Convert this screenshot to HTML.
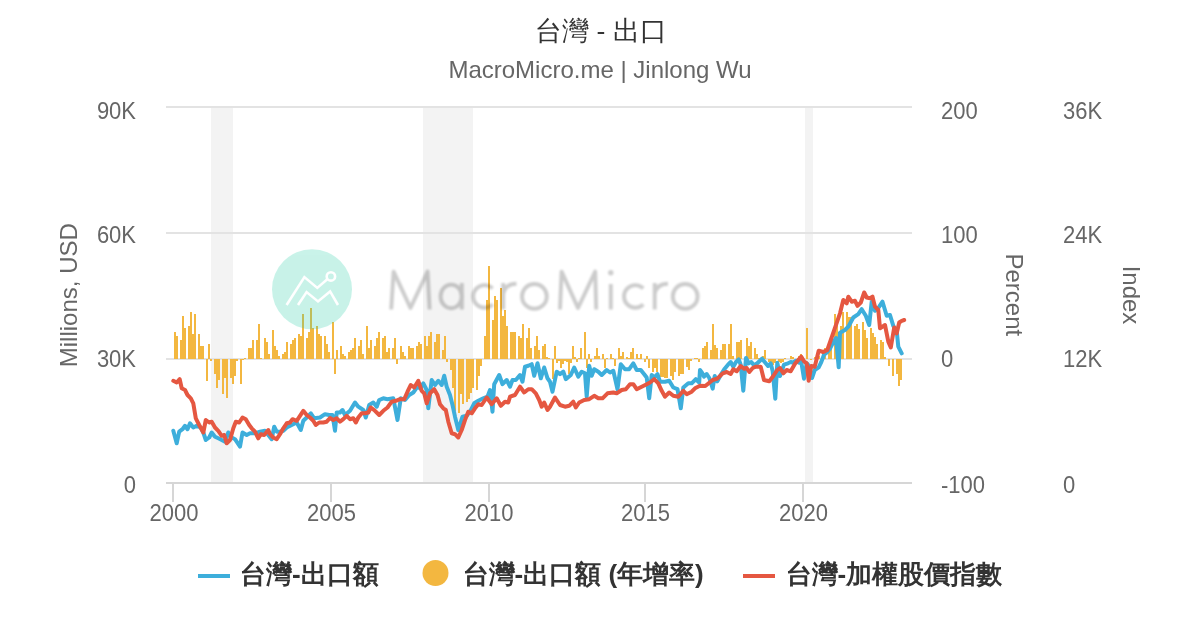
<!DOCTYPE html>
<html><head><meta charset="utf-8"><style>
html,body{margin:0;padding:0;background:#fff;}
body{width:1200px;height:630px;overflow:hidden;position:relative;font-family:"Liberation Sans",sans-serif;}
svg{position:absolute;left:0;top:0;will-change:transform;}
text{font-family:"Liberation Sans",sans-serif;}
</style></head><body>
<svg width="1200" height="630" viewBox="0 0 1200 630">
<defs><filter id="bl" x="-10%" y="-10%" width="120%" height="120%"><feGaussianBlur stdDeviation="0.8"/></filter></defs>
<rect x="0" y="0" width="1200" height="630" fill="#fff"/>
<g fill="#f3f3f3">
<rect x="211" y="107" width="22" height="376"/>
<rect x="423" y="107" width="50" height="376"/>
<rect x="805" y="107" width="8" height="376"/>
</g>
<g fill="#e3e3e3">
<rect x="166" y="106" width="746" height="2"/>
<rect x="166" y="232" width="746" height="2"/>
<rect x="166" y="358" width="746" height="2"/>
</g>
<g fill="#f3b740" shape-rendering="crispEdges">
<rect x="174" y="332.1" width="2" height="26.9"/>
<rect x="176" y="336.1" width="2" height="22.9"/>
<rect x="180" y="340.0" width="2" height="19.0"/>
<rect x="182" y="316.0" width="2" height="43.0"/>
<rect x="184" y="327.9" width="2" height="31.1"/>
<rect x="188" y="326.0" width="2" height="33.0"/>
<rect x="190" y="312.0" width="2" height="47.0"/>
<rect x="192" y="334.0" width="2" height="25.0"/>
<rect x="194" y="314.0" width="2" height="45.0"/>
<rect x="198" y="334.0" width="2" height="25.0"/>
<rect x="200" y="346.0" width="2" height="13.0"/>
<rect x="202" y="346.0" width="2" height="13.0"/>
<rect x="206" y="359.0" width="2" height="22.4"/>
<rect x="208" y="344.0" width="2" height="15.0"/>
<rect x="210" y="359.0" width="2" height="2.4"/>
<rect x="214" y="359.0" width="2" height="14.6"/>
<rect x="216" y="359.0" width="2" height="28.9"/>
<rect x="218" y="359.0" width="2" height="21.0"/>
<rect x="222" y="359.0" width="2" height="34.6"/>
<rect x="224" y="359.0" width="2" height="18.9"/>
<rect x="226" y="359.0" width="2" height="38.9"/>
<rect x="230" y="359.0" width="2" height="18.9"/>
<rect x="232" y="359.0" width="2" height="24.6"/>
<rect x="234" y="359.0" width="2" height="16.7"/>
<rect x="236" y="359.0" width="2" height="1.5"/>
<rect x="240" y="359.0" width="2" height="24.6"/>
<rect x="242" y="359.0" width="2" height="0.8"/>
<rect x="244" y="357.9" width="2" height="1.1"/>
<rect x="248" y="347.9" width="2" height="11.1"/>
<rect x="250" y="347.9" width="2" height="11.1"/>
<rect x="252" y="340.0" width="2" height="19.0"/>
<rect x="256" y="340.0" width="2" height="19.0"/>
<rect x="258" y="324.0" width="2" height="35.0"/>
<rect x="260" y="357.9" width="2" height="1.1"/>
<rect x="264" y="337.9" width="2" height="21.1"/>
<rect x="266" y="342.1" width="2" height="16.9"/>
<rect x="268" y="354.3" width="2" height="4.7"/>
<rect x="272" y="330.1" width="2" height="28.9"/>
<rect x="274" y="345.9" width="2" height="13.1"/>
<rect x="276" y="350.1" width="2" height="8.9"/>
<rect x="278" y="355.8" width="2" height="3.2"/>
<rect x="282" y="353.9" width="2" height="5.1"/>
<rect x="284" y="352.0" width="2" height="7.0"/>
<rect x="286" y="341.8" width="2" height="17.2"/>
<rect x="290" y="344.1" width="2" height="14.9"/>
<rect x="292" y="339.9" width="2" height="19.1"/>
<rect x="294" y="338.0" width="2" height="21.0"/>
<rect x="298" y="334.0" width="2" height="25.0"/>
<rect x="300" y="335.9" width="2" height="23.1"/>
<rect x="302" y="313.9" width="2" height="45.1"/>
<rect x="306" y="338.0" width="2" height="21.0"/>
<rect x="308" y="332.0" width="2" height="27.0"/>
<rect x="310" y="308.2" width="2" height="50.8"/>
<rect x="312" y="327.9" width="2" height="31.1"/>
<rect x="316" y="326.0" width="2" height="33.0"/>
<rect x="318" y="334.0" width="2" height="25.0"/>
<rect x="320" y="335.9" width="2" height="23.1"/>
<rect x="324" y="335.9" width="2" height="23.1"/>
<rect x="326" y="344.1" width="2" height="14.9"/>
<rect x="328" y="352.0" width="2" height="7.0"/>
<rect x="332" y="322.1" width="2" height="36.9"/>
<rect x="334" y="359.0" width="2" height="14.6"/>
<rect x="336" y="350.1" width="2" height="8.9"/>
<rect x="340" y="345.9" width="2" height="13.1"/>
<rect x="342" y="353.9" width="2" height="5.1"/>
<rect x="344" y="355.8" width="2" height="3.2"/>
<rect x="348" y="352.0" width="2" height="7.0"/>
<rect x="350" y="350.1" width="2" height="8.9"/>
<rect x="352" y="348.2" width="2" height="10.8"/>
<rect x="354" y="338.0" width="2" height="21.0"/>
<rect x="358" y="345.9" width="2" height="13.1"/>
<rect x="360" y="339.9" width="2" height="19.1"/>
<rect x="362" y="353.9" width="2" height="5.1"/>
<rect x="366" y="326.0" width="2" height="33.0"/>
<rect x="368" y="348.2" width="2" height="10.8"/>
<rect x="370" y="339.9" width="2" height="19.1"/>
<rect x="374" y="345.9" width="2" height="13.1"/>
<rect x="376" y="338.0" width="2" height="21.0"/>
<rect x="378" y="332.0" width="2" height="27.0"/>
<rect x="382" y="338.0" width="2" height="21.0"/>
<rect x="384" y="335.9" width="2" height="23.1"/>
<rect x="386" y="352.1" width="2" height="6.9"/>
<rect x="388" y="348.2" width="2" height="10.8"/>
<rect x="392" y="348.2" width="2" height="10.8"/>
<rect x="394" y="338.2" width="2" height="20.8"/>
<rect x="396" y="359.0" width="2" height="4.8"/>
<rect x="400" y="346.0" width="2" height="13.0"/>
<rect x="402" y="352.1" width="2" height="6.9"/>
<rect x="404" y="356.2" width="2" height="2.8"/>
<rect x="408" y="346.0" width="2" height="13.0"/>
<rect x="410" y="348.2" width="2" height="10.8"/>
<rect x="412" y="348.2" width="2" height="10.8"/>
<rect x="416" y="346.0" width="2" height="13.0"/>
<rect x="418" y="342.2" width="2" height="16.8"/>
<rect x="420" y="344.1" width="2" height="14.9"/>
<rect x="424" y="336.3" width="2" height="22.7"/>
<rect x="426" y="346.0" width="2" height="13.0"/>
<rect x="428" y="336.3" width="2" height="22.7"/>
<rect x="430" y="332.1" width="2" height="26.9"/>
<rect x="434" y="342.2" width="2" height="16.8"/>
<rect x="436" y="334.2" width="2" height="24.8"/>
<rect x="438" y="334.2" width="2" height="24.8"/>
<rect x="442" y="350.2" width="2" height="8.8"/>
<rect x="444" y="336.3" width="2" height="22.7"/>
<rect x="446" y="359.0" width="2" height="2.7"/>
<rect x="450" y="359.0" width="2" height="11.0"/>
<rect x="452" y="359.0" width="2" height="29.1"/>
<rect x="454" y="359.0" width="2" height="51.5"/>
<rect x="458" y="359.0" width="2" height="54.0"/>
<rect x="460" y="359.0" width="2" height="35.3"/>
<rect x="462" y="359.0" width="2" height="44.8"/>
<rect x="466" y="359.0" width="2" height="42.9"/>
<rect x="468" y="359.0" width="2" height="40.0"/>
<rect x="470" y="359.0" width="2" height="34.0"/>
<rect x="472" y="359.0" width="2" height="29.0"/>
<rect x="476" y="359.0" width="2" height="30.5"/>
<rect x="478" y="359.0" width="2" height="16.7"/>
<rect x="480" y="359.0" width="2" height="6.7"/>
<rect x="484" y="336.3" width="2" height="22.7"/>
<rect x="486" y="300.0" width="2" height="59.0"/>
<rect x="488" y="266.0" width="2" height="93.0"/>
<rect x="492" y="320.0" width="2" height="39.0"/>
<rect x="494" y="296.0" width="2" height="63.0"/>
<rect x="496" y="300.0" width="2" height="59.0"/>
<rect x="500" y="288.0" width="2" height="71.0"/>
<rect x="502" y="316.0" width="2" height="43.0"/>
<rect x="504" y="310.2" width="2" height="48.8"/>
<rect x="506" y="326.0" width="2" height="33.0"/>
<rect x="510" y="332.2" width="2" height="26.8"/>
<rect x="512" y="332.2" width="2" height="26.8"/>
<rect x="514" y="332.0" width="2" height="27.0"/>
<rect x="518" y="336.0" width="2" height="23.0"/>
<rect x="520" y="338.0" width="2" height="21.0"/>
<rect x="522" y="324.3" width="2" height="34.7"/>
<rect x="526" y="338.0" width="2" height="21.0"/>
<rect x="528" y="328.0" width="2" height="31.0"/>
<rect x="530" y="348.0" width="2" height="11.0"/>
<rect x="534" y="346.0" width="2" height="13.0"/>
<rect x="536" y="336.0" width="2" height="23.0"/>
<rect x="538" y="349.7" width="2" height="9.3"/>
<rect x="542" y="346.0" width="2" height="13.0"/>
<rect x="544" y="343.8" width="2" height="15.2"/>
<rect x="546" y="357.0" width="2" height="2.0"/>
<rect x="548" y="357.5" width="2" height="1.5"/>
<rect x="552" y="359.0" width="2" height="20.4"/>
<rect x="554" y="345.9" width="2" height="13.1"/>
<rect x="556" y="359.0" width="2" height="4.3"/>
<rect x="558" y="359.0" width="2" height="2.0"/>
<rect x="560" y="359.0" width="2" height="8.8"/>
<rect x="562" y="359.0" width="2" height="5.4"/>
<rect x="564" y="359.0" width="2" height="1.6"/>
<rect x="566" y="359.0" width="2" height="3.0"/>
<rect x="568" y="359.0" width="2" height="14.9"/>
<rect x="570" y="359.0" width="2" height="4.3"/>
<rect x="572" y="346.1" width="2" height="12.9"/>
<rect x="574" y="357.0" width="2" height="2.0"/>
<rect x="576" y="359.0" width="2" height="2.7"/>
<rect x="578" y="357.5" width="2" height="1.5"/>
<rect x="580" y="348.1" width="2" height="10.9"/>
<rect x="584" y="332.2" width="2" height="26.8"/>
<rect x="586" y="359.0" width="2" height="9.3"/>
<rect x="588" y="354.1" width="2" height="4.9"/>
<rect x="590" y="359.0" width="2" height="2.7"/>
<rect x="594" y="356.1" width="2" height="2.9"/>
<rect x="596" y="348.1" width="2" height="10.9"/>
<rect x="598" y="356.1" width="2" height="2.9"/>
<rect x="602" y="354.1" width="2" height="4.9"/>
<rect x="604" y="359.0" width="2" height="8.8"/>
<rect x="606" y="357.5" width="2" height="1.5"/>
<rect x="610" y="354.1" width="2" height="4.9"/>
<rect x="612" y="357.5" width="2" height="1.5"/>
<rect x="614" y="359.0" width="2" height="6.6"/>
<rect x="618" y="348.1" width="2" height="10.9"/>
<rect x="620" y="356.1" width="2" height="2.9"/>
<rect x="622" y="352.0" width="2" height="7.0"/>
<rect x="626" y="357.0" width="2" height="2.0"/>
<rect x="628" y="357.5" width="2" height="1.5"/>
<rect x="630" y="352.0" width="2" height="7.0"/>
<rect x="632" y="348.1" width="2" height="10.9"/>
<rect x="636" y="354.0" width="2" height="5.0"/>
<rect x="638" y="357.5" width="2" height="1.5"/>
<rect x="640" y="354.0" width="2" height="5.0"/>
<rect x="644" y="359.0" width="2" height="2.7"/>
<rect x="646" y="356.0" width="2" height="3.0"/>
<rect x="648" y="359.0" width="2" height="8.8"/>
<rect x="652" y="359.0" width="2" height="13.2"/>
<rect x="654" y="359.0" width="2" height="9.0"/>
<rect x="656" y="359.0" width="2" height="12.9"/>
<rect x="660" y="359.0" width="2" height="17.7"/>
<rect x="662" y="359.0" width="2" height="18.0"/>
<rect x="664" y="359.0" width="2" height="18.9"/>
<rect x="666" y="359.0" width="2" height="18.9"/>
<rect x="670" y="359.0" width="2" height="16.5"/>
<rect x="672" y="359.0" width="2" height="20.6"/>
<rect x="674" y="359.0" width="2" height="13.0"/>
<rect x="678" y="359.0" width="2" height="16.5"/>
<rect x="680" y="359.0" width="2" height="15.3"/>
<rect x="682" y="359.0" width="2" height="15.3"/>
<rect x="686" y="359.0" width="2" height="8.1"/>
<rect x="688" y="359.0" width="2" height="10.5"/>
<rect x="690" y="359.0" width="2" height="2.2"/>
<rect x="694" y="358.0" width="2" height="1.0"/>
<rect x="696" y="358.0" width="2" height="1.0"/>
<rect x="698" y="359.0" width="2" height="2.8"/>
<rect x="702" y="348.1" width="2" height="10.9"/>
<rect x="704" y="345.7" width="2" height="13.3"/>
<rect x="706" y="342.1" width="2" height="16.9"/>
<rect x="710" y="349.9" width="2" height="9.1"/>
<rect x="712" y="324.0" width="2" height="35.0"/>
<rect x="714" y="344.5" width="2" height="14.5"/>
<rect x="716" y="348.1" width="2" height="10.9"/>
<rect x="720" y="349.9" width="2" height="9.1"/>
<rect x="722" y="344.3" width="2" height="14.7"/>
<rect x="724" y="344.3" width="2" height="14.7"/>
<rect x="728" y="344.3" width="2" height="14.7"/>
<rect x="730" y="324.0" width="2" height="35.0"/>
<rect x="732" y="355.8" width="2" height="3.2"/>
<rect x="736" y="342.1" width="2" height="16.9"/>
<rect x="738" y="342.1" width="2" height="16.9"/>
<rect x="740" y="340.0" width="2" height="19.0"/>
<rect x="746" y="338.2" width="2" height="20.8"/>
<rect x="748" y="345.7" width="2" height="13.3"/>
<rect x="750" y="342.1" width="2" height="16.9"/>
<rect x="754" y="348.1" width="2" height="10.9"/>
<rect x="756" y="354.0" width="2" height="5.0"/>
<rect x="758" y="358.0" width="2" height="1.0"/>
<rect x="762" y="355.8" width="2" height="3.2"/>
<rect x="764" y="350.1" width="2" height="8.9"/>
<rect x="768" y="359.0" width="2" height="3.4"/>
<rect x="770" y="359.0" width="2" height="2.8"/>
<rect x="772" y="359.0" width="2" height="5.8"/>
<rect x="774" y="359.0" width="2" height="4.0"/>
<rect x="778" y="359.0" width="2" height="3.0"/>
<rect x="780" y="359.0" width="2" height="3.9"/>
<rect x="782" y="359.0" width="2" height="3.0"/>
<rect x="784" y="357.8" width="2" height="1.2"/>
<rect x="790" y="356.1" width="2" height="2.9"/>
<rect x="792" y="357.0" width="2" height="2.0"/>
<rect x="798" y="356.0" width="2" height="3.0"/>
<rect x="800" y="354.4" width="2" height="4.6"/>
<rect x="806" y="328.3" width="2" height="30.7"/>
<rect x="810" y="359.0" width="2" height="1.0"/>
<rect x="814" y="357.0" width="2" height="2.0"/>
<rect x="816" y="357.0" width="2" height="2.0"/>
<rect x="818" y="356.0" width="2" height="3.0"/>
<rect x="822" y="352.0" width="2" height="7.0"/>
<rect x="824" y="347.8" width="2" height="11.2"/>
<rect x="828" y="352.0" width="2" height="7.0"/>
<rect x="830" y="346.7" width="2" height="12.3"/>
<rect x="834" y="313.9" width="2" height="45.1"/>
<rect x="836" y="322.0" width="2" height="37.0"/>
<rect x="840" y="326.0" width="2" height="33.0"/>
<rect x="842" y="312.2" width="2" height="46.8"/>
<rect x="846" y="312.2" width="2" height="46.8"/>
<rect x="848" y="316.7" width="2" height="42.3"/>
<rect x="850" y="316.7" width="2" height="42.3"/>
<rect x="854" y="325.7" width="2" height="33.3"/>
<rect x="856" y="324.3" width="2" height="34.7"/>
<rect x="858" y="328.6" width="2" height="30.4"/>
<rect x="862" y="322.0" width="2" height="37.0"/>
<rect x="864" y="330.0" width="2" height="29.0"/>
<rect x="866" y="337.9" width="2" height="21.1"/>
<rect x="870" y="327.9" width="2" height="31.1"/>
<rect x="872" y="332.9" width="2" height="26.1"/>
<rect x="874" y="337.0" width="2" height="22.0"/>
<rect x="876" y="343.6" width="2" height="15.4"/>
<rect x="880" y="340.0" width="2" height="19.0"/>
<rect x="882" y="342.1" width="2" height="16.9"/>
<rect x="884" y="357.1" width="2" height="1.9"/>
<rect x="888" y="359.0" width="2" height="6.7"/>
<rect x="892" y="359.0" width="2" height="16.7"/>
<rect x="896" y="359.0" width="2" height="14.6"/>
<rect x="898" y="359.0" width="2" height="26.7"/>
<rect x="900" y="359.0" width="2" height="21.0"/>
</g>
<g fill="none" stroke-linejoin="round" stroke-linecap="round" stroke-width="4">
<path d="M173.3 430.8 L176.7 443.3 L179.2 431.7 L182.5 429.2 L185.0 425.8 L187.5 429.2 L190.0 423.3 L193.3 427.5 L196.7 425.8 L200.8 427.5 L203.3 432.5 L205.8 440.0 L209.2 437.5 L211.7 432.5 L215.0 436.7 L218.3 438.3 L221.7 440.0 L225.0 441.7 L228.3 432.5 L231.7 437.5 L235.0 439.2 L240.0 446.7 L242.5 432.5 L246.7 435.0 L250.0 433.3 L255.0 433.3 L260.0 431.7 L265.0 430.8 L268.3 435.0 L271.7 439.2 L274.2 426.7 L276.7 431.7 L280.0 431.7 L283.3 430.8 L286.7 427.5 L291.7 425.0 L296.7 422.5 L300.8 430.0 L303.3 420.8 L307.5 416.7 L310.8 413.3 L314.2 418.3 L320.0 417.5 L325.0 414.2 L329.2 415.0 L332.5 415.0 L335.0 430.8 L336.7 412.5 L340.0 412.5 L342.5 410.0 L345.0 415.0 L350.0 410.8 L355.0 402.5 L358.3 406.7 L363.3 410.0 L365.8 417.5 L369.2 405.0 L373.3 402.5 L376.7 406.7 L379.2 400.0 L383.3 398.3 L387.5 399.2 L393.3 398.3 L397.5 420.0 L400.8 398.3 L405.0 400.0 L409.2 395.0 L413.3 392.5 L417.5 386.7 L420.0 388.3 L423.3 383.3 L426.7 390.0 L428.3 408.3 L431.7 380.0 L435.0 385.0 L438.3 380.8 L441.7 385.0 L444.2 375.8 L446.7 386.7 L450.0 395.0 L452.5 405.0 L455.0 416.7 L458.3 430.0 L462.5 416.7 L466.7 415.8 L470.0 411.7 L474.2 403.3 L478.3 400.8 L483.3 398.3 L487.5 396.7 L490.0 390.0 L492.5 411.7 L494.2 384.2 L499.2 375.0 L502.5 384.2 L506.7 380.0 L510.0 386.7 L512.5 380.0 L515.8 380.0 L520.0 375.0 L522.5 381.7 L525.0 366.7 L528.3 365.8 L531.7 364.2 L534.2 375.8 L537.5 363.3 L540.8 378.3 L544.2 367.5 L547.5 378.3 L550.0 381.7 L552.5 391.7 L556.7 371.7 L560.0 374.2 L563.3 371.7 L565.8 379.2 L570.8 375.0 L574.2 367.5 L578.3 376.7 L581.7 371.7 L585.0 373.3 L586.7 396.7 L589.2 365.8 L591.7 375.8 L594.2 369.2 L598.3 371.7 L601.7 375.0 L606.7 370.0 L610.0 372.5 L613.3 370.8 L617.5 389.2 L620.8 364.2 L625.0 369.2 L629.2 369.2 L633.3 363.3 L636.7 370.0 L640.8 370.0 L644.2 374.2 L646.7 377.5 L649.2 398.3 L651.7 375.0 L654.2 377.5 L657.5 374.2 L660.0 381.7 L665.0 381.7 L669.2 380.8 L673.3 387.5 L677.5 389.2 L680.8 408.3 L683.3 387.5 L688.3 383.3 L691.7 383.3 L695.8 379.2 L699.2 382.5 L700.0 370.0 L702.0 372.7 L704.0 376.7 L706.7 374.0 L709.3 378.0 L712.7 388.7 L714.7 376.0 L717.3 381.3 L721.3 374.0 L724.7 368.7 L728.0 364.7 L730.7 362.0 L733.3 366.7 L736.0 362.0 L738.7 359.3 L740.7 364.7 L743.3 390.7 L746.0 358.0 L748.7 363.3 L751.3 362.0 L754.0 365.3 L757.3 363.3 L762.0 358.7 L765.3 362.7 L768.0 366.0 L770.7 363.3 L772.7 371.3 L775.3 398.7 L777.3 362.7 L780.0 376.0 L784.0 364.7 L788.0 363.3 L790.7 362.0 L793.3 362.7 L796.0 360.7 L799.3 362.7 L801.3 362.0 L804.0 378.7 L806.7 363.3 L808.7 365.3 L812.0 378.0 L814.7 370.0 L818.7 367.3 L821.3 362.0 L824.0 354.7 L826.7 352.7 L830.0 348.7 L833.3 342.0 L836.0 338.0 L838.7 367.3 L840.0 332.7 L845.0 330.0 L848.3 326.7 L853.3 317.5 L858.3 314.2 L861.7 309.2 L865.8 315.8 L869.2 325.0 L871.7 301.7 L875.0 310.8 L879.2 306.7 L882.5 301.7 L886.7 315.8 L890.0 315.0 L893.3 325.8 L896.7 330.8 L898.3 346.7 L901.7 353.3" stroke="#3daedb"/>
<path d="M173.3 380.8 L176.7 382.5 L179.7 379.2 L181.7 388.3 L185.0 390.0 L187.5 395.0 L190.8 398.3 L193.3 403.3 L195.8 418.3 L199.2 425.0 L203.3 432.5 L205.8 420.0 L209.2 422.5 L211.7 421.7 L215.0 427.5 L218.3 430.8 L221.7 435.8 L224.2 435.0 L226.7 443.3 L230.0 440.0 L233.3 428.3 L235.8 421.7 L239.2 422.5 L242.5 417.5 L245.8 419.2 L249.2 425.0 L251.7 428.3 L255.0 431.7 L258.3 438.3 L260.8 434.2 L264.2 435.0 L268.3 430.0 L270.0 434.2 L273.3 437.5 L276.7 439.2 L280.0 434.2 L283.3 428.3 L286.7 423.3 L290.0 422.5 L292.5 419.2 L296.7 420.8 L300.0 415.8 L303.3 410.8 L306.7 415.0 L310.0 417.5 L313.3 420.8 L315.8 425.0 L319.2 422.5 L323.3 422.5 L326.7 421.7 L330.0 418.0 L333.3 420.0 L336.7 418.3 L340.0 421.7 L343.3 419.2 L346.7 415.8 L350.0 419.2 L353.3 418.3 L355.8 422.5 L358.3 417.5 L361.7 413.3 L365.0 413.3 L368.3 412.5 L370.8 407.5 L375.0 410.8 L379.2 415.0 L383.3 410.8 L387.5 407.5 L391.7 401.7 L395.8 400.8 L400.0 399.2 L404.2 399.2 L407.5 391.7 L410.8 385.0 L414.2 387.5 L418.3 380.8 L421.7 390.8 L424.2 393.3 L426.7 403.3 L430.0 393.3 L434.2 389.2 L437.5 395.0 L440.0 404.2 L443.3 408.3 L445.8 410.0 L448.3 421.7 L451.7 433.3 L455.0 434.2 L458.3 437.5 L461.7 430.0 L465.0 420.0 L468.3 411.7 L471.7 413.3 L475.0 408.3 L478.3 404.2 L481.7 405.0 L486.7 397.5 L491.7 404.2 L496.7 398.3 L500.8 405.8 L505.0 401.7 L508.3 402.5 L510.0 396.7 L515.0 395.0 L520.0 386.7 L524.2 392.5 L528.3 389.2 L531.7 389.2 L535.8 393.3 L539.2 400.0 L541.7 406.7 L544.2 402.5 L547.5 410.0 L550.0 406.7 L555.0 397.5 L560.0 405.0 L565.0 406.7 L569.2 405.8 L573.3 401.7 L575.8 407.5 L579.2 402.5 L584.2 400.0 L589.2 399.2 L594.2 395.8 L598.3 398.3 L602.5 398.3 L607.5 393.3 L613.3 392.5 L616.7 393.3 L621.7 390.0 L625.8 389.2 L630.0 384.2 L633.3 384.2 L636.7 389.2 L641.7 386.7 L646.7 384.2 L650.0 382.5 L654.2 379.2 L658.3 383.3 L661.7 390.8 L665.0 396.7 L669.2 392.5 L673.3 395.8 L678.3 396.7 L683.3 390.8 L686.7 394.2 L691.7 391.7 L695.0 388.3 L700.0 385.8 L705.3 386.0 L709.3 382.7 L712.7 380.0 L717.3 378.7 L722.7 373.3 L726.7 372.0 L730.7 374.0 L733.3 369.3 L736.7 371.3 L740.7 366.0 L744.0 368.7 L746.7 368.0 L749.3 372.0 L752.7 368.0 L756.0 366.7 L760.7 366.7 L764.0 380.0 L769.3 381.3 L773.3 376.0 L777.3 370.0 L780.0 368.0 L783.3 373.3 L786.7 370.0 L790.7 371.3 L795.3 363.3 L801.3 356.7 L804.0 361.3 L806.7 363.3 L808.7 380.7 L811.3 366.0 L814.7 366.7 L818.7 350.7 L823.3 352.0 L827.3 350.0 L840.0 313.3 L843.3 300.0 L846.7 303.3 L848.3 296.7 L851.7 301.7 L855.0 300.8 L857.5 305.8 L860.8 302.5 L864.2 292.5 L866.7 297.5 L870.0 298.3 L872.5 296.7 L875.0 306.7 L878.3 310.0 L880.0 328.3 L885.0 325.0 L888.3 341.7 L890.8 347.5 L894.2 327.5 L896.7 333.3 L899.2 322.5 L901.7 320.8 L904.2 320.0" stroke="#e55741"/>
</g>
<g opacity="0.25">
<circle cx="312" cy="289.3" r="40" fill="#27cfa8"/>
<g fill="none" stroke="#fff" stroke-width="2.6" stroke-linejoin="miter" opacity="1">
<path d="M286.6 305 L304.4 277.1 L317.3 287.9 L327.3 279.3"/>
<circle cx="330.9" cy="276.4" r="4.2"/>
<path d="M298 305 L306.6 292.1 L318 301.4 L330.1 291.4 L338 305"/>
</g>
</g>
<g opacity="0.2" filter="url(#bl)"><g fill="none" stroke="#000" stroke-width="3.9" stroke-linejoin="round">
<path d="M391.2 309.5 L393.6 271.6 L410.5 308 L427.6 271.6 L429.6 309.5"/>
<ellipse cx="451.2" cy="296.4" rx="10.6" ry="11.8"/><path d="M461.8 283 L461.8 309.5"/>
<path d="M492.5 288.4 A11.3 11.3 0 1 0 492.5 304.4"/>
<path d="M503.2 283 L503.2 309.5 M503.2 294 Q505 283.8 516.5 283.8"/>
<circle cx="534.4" cy="296.4" r="12.4"/>
<path d="M560 309.5 L561.6 271.6 L578 308 L595.2 271.6 L596.2 309.5"/>
<path d="M610.8 284 L610.8 309.5"/>
<path d="M643.3 288.4 A11.3 11.3 0 1 0 643.3 304.4"/>
<path d="M654.7 283 L654.7 309.5 M654.7 294 Q656.5 283.8 668 283.8"/>
<circle cx="685.2" cy="296.4" r="12.4"/>
</g>
<circle cx="610.8" cy="272.7" r="2.7" fill="#000"/>
</g>
<rect x="166" y="482" width="746" height="2" fill="#d6d6d6"/>
<g fill="#d6d6d6">
<rect x="172" y="483" width="2" height="19"/>
<rect x="330" y="483" width="2" height="19"/>
<rect x="488" y="483" width="2" height="19"/>
<rect x="644" y="483" width="2" height="19"/>
<rect x="802" y="483" width="2" height="19"/>
</g>
<g font-size="22" fill="#666666">
<text transform="translate(136 119) scale(1 1.07)" text-anchor="end">90K</text>
<text transform="translate(136 243) scale(1 1.07)" text-anchor="end">60K</text>
<text transform="translate(136 367) scale(1 1.07)" text-anchor="end">30K</text>
<text transform="translate(136 493) scale(1 1.07)" text-anchor="end">0</text>
<text transform="translate(941 119) scale(1 1.07)">200</text>
<text transform="translate(941 243) scale(1 1.07)">100</text>
<text transform="translate(941 367) scale(1 1.07)">0</text>
<text transform="translate(941 493) scale(1 1.07)">-100</text>
<text transform="translate(1063 119) scale(1 1.07)">36K</text>
<text transform="translate(1063 243) scale(1 1.07)">24K</text>
<text transform="translate(1063 367) scale(1 1.07)">12K</text>
<text transform="translate(1063 493) scale(1 1.07)">0</text>
<text transform="translate(174 521) scale(1 1.07)" text-anchor="middle">2000</text>
<text transform="translate(331.5 521) scale(1 1.07)" text-anchor="middle">2005</text>
<text transform="translate(489 521) scale(1 1.07)" text-anchor="middle">2010</text>
<text transform="translate(645.5 521) scale(1 1.07)" text-anchor="middle">2015</text>
<text transform="translate(803.5 521) scale(1 1.07)" text-anchor="middle">2020</text>
</g>
<g font-size="24" fill="#666666">
<text transform="translate(77.3 295.2) rotate(-90) scale(1 1.02)" text-anchor="middle">Millions, USD</text>
<text transform="translate(1005.5 294.8) rotate(90) scale(1 1.03)" text-anchor="middle">Percent</text>
<text transform="translate(1122.5 295) rotate(90) scale(1 1.03)" text-anchor="middle">Index</text>
</g>
<text x="601" y="39.5" font-size="26.6" fill="#333333" text-anchor="middle">台灣 - 出口</text>
<text x="600" y="78" font-size="24" fill="#666666" text-anchor="middle">MacroMicro.me | Jinlong Wu</text>
<rect x="198" y="574" width="32" height="4" fill="#3daedb"/>
<circle cx="435.5" cy="573" r="13" fill="#f3b740"/>
<rect x="743" y="574" width="32" height="4" fill="#e55741"/>
<g font-size="26" font-weight="bold" fill="#333333">
<text x="240" y="583">台灣-出口額</text>
<text x="462.5" y="583">台灣-出口額 (年增率)</text>
<text x="785.5" y="583">台灣-加權股價指數</text>
</g>
</svg>
</body></html>
